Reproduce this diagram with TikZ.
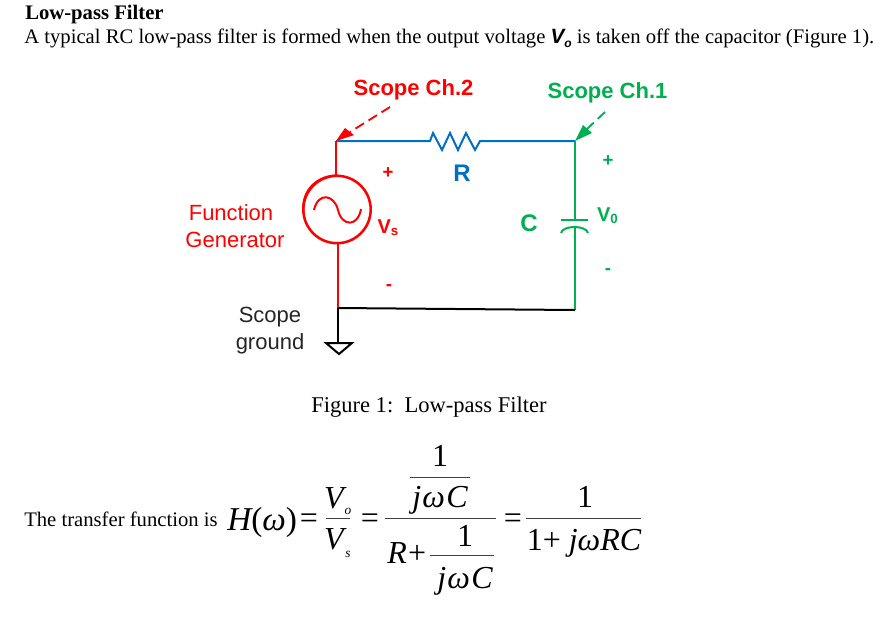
\documentclass[tikz,border=0pt]{standalone}
\usepackage{fontspec}
\setmainfont{Liberation Serif}
\setsansfont{Liberation Sans}
\usetikzlibrary{positioning}
\definecolor{wirered}{HTML}{FF0000}
\definecolor{wireblue}{HTML}{0070C0}
\definecolor{wiregreen}{HTML}{00B050}
\tikzset{
    txt/.style={anchor=base west,inner sep=0pt,font=\fontsize{15.5}{19}\selectfont},
    lbl/.style={anchor=base,inner sep=0pt,font=\sffamily\fontsize{16.5}{20}\selectfont},
    blbl/.style={anchor=base,inner sep=0pt,font=\sffamily\bfseries\fontsize{16.5}{20}\selectfont},
    sgn/.style={anchor=base,inner sep=0pt,font=\sffamily\bfseries\fontsize{14}{16}\selectfont},
    eq/.style={anchor=base,inner sep=0pt,font=\fontsize{24}{28}\selectfont},
    eqi/.style={eq,font=\itshape\fontsize{24}{28}\selectfont},
    sub/.style={eq,font=\itshape\fontsize{10}{10}\selectfont},
    wire/.style={line width=1.5pt},
    probe/.style={line width=1.4pt,dash pattern=on 7.5pt off 4pt},
    bar/.style={line width=.55pt,black!75}
}
\begin{document}
\begin{tikzpicture}[x=.75pt,y=-.75pt]
    \useasboundingbox (0,0) rectangle (889,619);
    % text above
    \node[txt] (title) at (25,19) {\bfseries Low-pass Filter};
    \node[txt] (intro) at (24,43) {A typical RC low-pass filter is formed when the output voltage {\sffamily\bfseries\itshape V\raisebox{-3pt}{\fontsize{9}{9}\selectfont o}} is taken off the capacitor (Figure 1).};
    % corners
    \coordinate (tl) at (336,141);
    \coordinate (tr) at (575,141);
    \coordinate (bl) at (338,308);
    \coordinate (br) at (575,310);
    \coordinate (gnd) at (338,343);
    \node[draw=wirered,line width=1.9pt,circle,minimum size=50.5pt,inner sep=0pt] (src) at (337,209.5) {};
    \coordinate (rl) at (430,141);
    \coordinate (rr) at (480,141);
    \coordinate (ctop) at (575,220);
    \coordinate (cbot) at (575,227);
    % wires
    \draw[wire,wireblue] (tl) -- (rl) -- ++(3,-8) -- ++(9,17) -- ++(8,-17) -- ++(8,17) -- ++(8,-17) -- ++(9,17) -- (rr) -- (tr);
    \draw[wire,wirered] (tl) -- (tl|-src.north);
    \draw[wire,wirered] (bl|-src.south) -- (bl);
    \draw[wire,wiregreen] (tr) -- (ctop);
    \draw[wire,wiregreen] (cbot) -- (br);
    \draw[wire,black] (bl) -- (br);
    \draw[wire,black] (bl) -- (gnd);
    \draw[wire,black] (326,343) -- (352,343) -- (339,354) -- cycle;
    % source wave and the heavier left side of the ring
    \draw[line width=1.5pt,wirered] (314,210) .. controls (318,192) and (334,194) .. (338,210) .. controls (342,227) and (358,227) .. (361,209);
    \draw[line width=1.6pt,wirered] (303.5,212) .. controls (301,190) and (318,175) .. (338,175.5);
    % capacitor
    \draw[wire,wiregreen] (561,220) -- (588,220);
    \draw[wire,wiregreen] (561,233) .. controls (563,225) and (586,225) .. (588,233);
    % probes
    \coordinate (p2) at (390,107);
    \coordinate (p1) at (605,112);
    \draw[probe,wirered] (p2) -- (350,132);
    \fill[wirered] (tl) -- (345,128) -- (354,135) -- cycle;
    \draw[probe,wiregreen] (p1) -- (587,129);
    \fill[wiregreen] (tr) -- (583,125) -- (592,133) -- cycle;
    % labels
    \node[blbl,text=wirered] (ch2) at (413.5,95) {Scope Ch.2};
    \node[blbl,text=wiregreen] (ch1) at (607.5,98) {Scope Ch.1};
    \node[blbl,text=wireblue,font=\sffamily\bfseries\fontsize{18}{20}\selectfont] (rname) at (462,181) {R};
    \node[blbl,text=wiregreen,font=\sffamily\bfseries\fontsize{18}{20}\selectfont] (cname) at (529,231) {C};
    \node[lbl,text=wirered] (fn) at (231,220) {Function};
    \node[lbl,text=wirered] (gen) at (235,247) {Generator};
    \node[lbl,text=black!85] (sc) at (270,322) {Scope};
    \node[lbl,text=black!85] (grd) at (270,349) {ground};
    \node[sgn,text=wirered] at (388,178) {+};
    \node[sgn,text=wirered] at (389,290) {-};
    \node[sgn,text=wiregreen] at (608,166) {+};
    \node[sgn,text=wiregreen] at (608,274) {-};
    \node[blbl,text=wirered,font=\sffamily\bfseries\fontsize{15}{16}\selectfont] (vs) at (388,233) {V\raisebox{-1.5pt}{\fontsize{10}{10}\selectfont s}};
    \node[blbl,text=wiregreen,font=\sffamily\bfseries\fontsize{15}{16}\selectfont] (vo) at (607.5,221) {V\raisebox{-1.5pt}{\fontsize{10}{10}\selectfont 0}};
    % caption
    \node[txt,font=\fontsize{16.9}{20}\selectfont] (cap) at (311,412) {Figure 1:\ \ Low-pass Filter};
    % transfer function
    \node[txt] (tf) at (24,526) {The transfer function is};
    \node[eqi,font=\itshape\fontsize{25}{30}\selectfont,anchor=base west] (hw) at (227,530) {H{\upshape(}ω{\upshape)}};
    \node[eq] at (309,528) {=};
    \node[eqi] (vnum) at (334,508) {V};
    \node[sub] at (348,514) {o};
    \draw[bar] (326,518) -- (350,518);
    \node[eqi] (vden) at (334,549) {V};
    \node[sub] at (348,557) {s};
    \node[eq] at (370,528) {=};
    \node[eq] (one) at (440,466) {1};
    \draw[bar] (410,477) -- (470,477);
    \node[eqi] (jwc) at (440,507) {j\kern1ptω\kern1pt C};
    \draw[bar] (385,518) -- (496,518);
    \node[eqi,anchor=base west] (rplus) at (387,563) {R\kern1pt{\upshape+}};
    \node[eq] (oneb) at (465,546) {1};
    \draw[bar] (430,555) -- (494,555);
    \node[eqi] (jwcb) at (465,588) {j\kern1ptω\kern1pt C};
    \node[eq] at (513,528) {=};
    \node[eq] (onec) at (585,507) {1};
    \draw[bar] (526,518) -- (641,518);
    \node[eqi] (den) at (584,550) {{\upshape 1+} jωRC};
\end{tikzpicture}
\end{document}
